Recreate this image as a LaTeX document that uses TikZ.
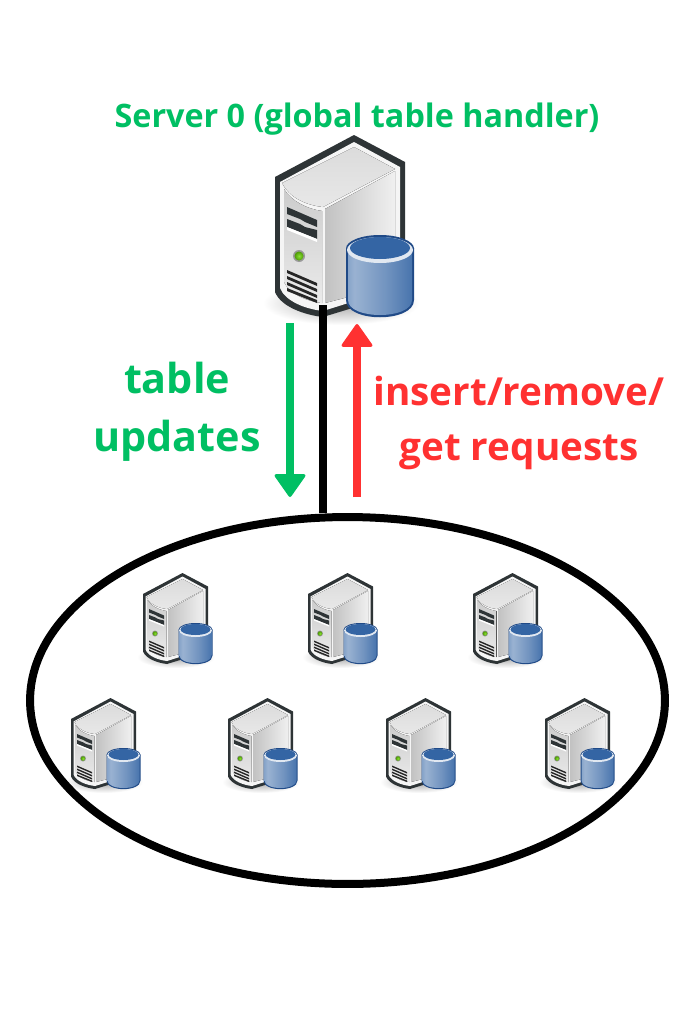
\documentclass[tikz,border=0pt]{standalone}
\usepackage{xcolor}
\usepackage{fontspec}
\setmainfont{Open Sans}
\usetikzlibrary{shapes.geometric,arrows.meta}

\definecolor{tablegreen}{HTML}{00BF63}
\definecolor{requestred}{HTML}{FF3131}
\definecolor{casedark}{HTML}{2E3436}
\definecolor{dbrim}{HTML}{204A87}
\definecolor{dbtop}{HTML}{3465A4}
\definecolor{ledlight}{HTML}{8AE234}
\definecolor{leddark}{HTML}{4E9A06}

\pgfdeclarehorizontalshading{dbbody}{100bp}{
  color(0bp)=(dbtop); color(10bp)=(dbtop!85!white); color(30bp)=(dbtop!50!white);
  color(55bp)=(dbtop!70!white); color(80bp)=(dbtop!95!white); color(100bp)=(dbtop)}

\tikzset{
  bigtext/.style={text=#1,font=\fontsize{23.5}{33}\selectfont\bfseries,align=center},
  pics/server/.style={code={
    \shade[inner color=black!35,outer color=white] (66,168) ellipse [x radius=78,y radius=22];
    \coordinate (-port) at (48,170);
    \fill[casedark] (0,42) -- (79,0) -- (130,27) -- (130,120) -- (120,160) -- (48,182)
      .. controls (30,180) and (6,172) .. (0,157) -- cycle;
    \fill[white!96!black] (5,47) -- (79,7) -- (125,32) -- (125,120) -- (118,154) -- (48,176)
      .. controls (30,174) and (10,166) .. (5,153) -- cycle;
    \fill[top color=black!14,bottom color=black!9] (7,48) -- (79,12) -- (120,34) -- (48,72)
      .. controls (30,70) and (14,62) .. (7,48) -- cycle;
    \fill[left color=black!24,right color=black!6] (50,74) -- (120,36) -- (120,150) -- (50,168) -- cycle;
    \fill[top color=black!20,bottom color=black!8] (9,54) .. controls (16,66) and (32,74) .. (47,76)
      -- (47,168) .. controls (30,166) and (14,158) .. (9,147) -- cycle;
    \fill[casedark] (12,72) -- (42,85) -- (42,92) -- (30,87) -- (25,84) -- (12,79) -- cycle;
    \fill[casedark] (12,84) -- (25,89) -- (30,92) -- (42,95) -- (42,104) -- (12,92) -- cycle;
    \fill[white] (12,92) -- (42,104) -- (42,107) -- (12,95) -- cycle;
    \fill[black!40] (24,121) circle (6);
    \shade[inner color=ledlight,outer color=leddark] (24,121) circle (4.5);
    \fill[black!85] (12,135) -- (42,148) -- (42,151) -- (12,138) -- cycle;
    \fill[black!85] (12,141) -- (42,154) -- (42,157) -- (12,144) -- cycle;
    \fill[black!85] (12,147) -- (42,160) -- (42,163) -- (12,150) -- cycle;
    \fill[black!85] (12,153) -- (42,165) -- (42,168) -- (12,156) -- cycle;
    \fill[dbrim] (71,113) -- (71,165) .. controls (71,188) and (139,188) .. (139,165) -- (139,113) -- cycle;
    \shade[shading=dbbody] (73,113) -- (73,165) .. controls (73,185) and (137,185) .. (137,165) -- (137,113) -- cycle;
    \fill[dbrim] (105,113.5) ellipse [x radius=34,y radius=13.5];
    \fill[white!85!dbtop] (105,115) ellipse [x radius=33,y radius=13];
    \fill[dbtop] (105,113) ellipse [x radius=30,y radius=11];
  }}
}

\begin{document}
\begin{tikzpicture}[x=0.02cm,y=-0.02cm]
\fill[white] (0,0) rectangle (682,1024);
\useasboundingbox (0,0) rectangle (682,1024);

\pic (srv0) at (275,135) {server};

\pic[scale=0.5] (srv1) at (143,573) {server};
\pic[scale=0.5] (srv2) at (308,573) {server};
\pic[scale=0.5] (srv3) at (473,573) {server};
\pic[scale=0.5] (srv4) at (71,698) {server};
\pic[scale=0.5] (srv5) at (228,698) {server};
\pic[scale=0.5] (srv6) at (386,698) {server};
\pic[scale=0.5] (srv7) at (545,698) {server};

\node[draw,ellipse,line width=0.16cm,minimum width=12.7cm,minimum height=7.34cm] (cluster) at (347.5,700.5) {};

\node[text=tablegreen,font=\fontsize{18.4}{22}\selectfont\bfseries] (title) at (357,119) {Server 0 (global table handler)};
\node[bigtext=tablegreen] (updateslabel) at (177,412) {table\\updates};
\node[text=requestred,font=\fontsize{22}{31.2}\selectfont\bfseries,align=center] (requestlabel) at (519,423) {insert/remove/\\get requests};

\coordinate (greentop) at (290,323);
\coordinate (greenend) at (290,497);
\coordinate (redstart) at (357,497);
\coordinate (redend) at (357,324);

\draw[line width=0.16cm] (srv0-port) -- (srv0-port |- cluster.north);
\draw[tablegreen,line width=0.16cm,-{Triangle[width=0.66cm,length=0.48cm,round,line width=0.06cm]}] (greentop) -- (greenend);
\draw[requestred,line width=0.16cm,-{Triangle[width=0.66cm,length=0.48cm,round,line width=0.06cm]}] (redstart) -- (redend);
\end{tikzpicture}
\end{document}
